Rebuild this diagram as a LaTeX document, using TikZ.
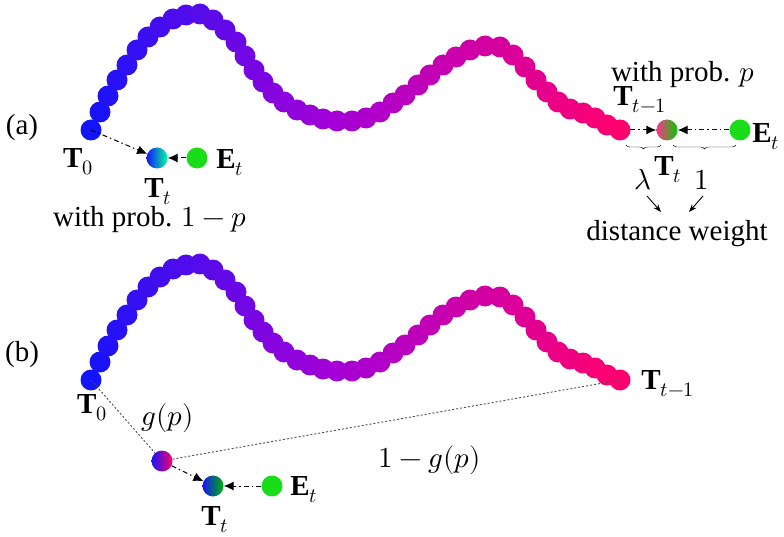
\documentclass[tikz,border=0pt]{standalone}
\usepackage{unicode-math}
\setmainfont{Liberation Serif}
\setmathfont{Latin Modern Math}
\usetikzlibrary{arrows.meta,decorations.pathreplacing}
\begin{document}
\begin{tikzpicture}[x=1pt,y=-1pt,
  dot/.style={circle,minimum size=21pt,inner sep=0pt},
  lab/.style={font=\fontsize{29}{33}\selectfont,inner sep=0pt},
  dda/.style={dash pattern=on 5pt off 3pt on 1.5pt off 3pt,line width=1pt,-{Latex[length=10pt,width=9pt]}},
  dotl/.style={dash pattern=on 2pt off 2pt,line width=0.9pt,gray!60!black}]
\useasboundingbox (0,0) rectangle (784,537);
\def\pts{91/130,100/112,108/96,117/80,127/65,137/50,148/37,160/27,173/19,186/15,200/14,213/20,225/30,236/42,245/56,254/70,263/82,273/93,284/102,297/110,310/115,323/119,337/121,352/121,366/118,380/112,393/103,405/95,418/85,430/75,443/65,456/57,470/50,485/46,500/47,513/55,525/67,536/80,547/92,558/102,570/109,583/113,595/118,607/125,620/130}
\definecolor{cA}{RGB}{20,20,250}
\definecolor{cB}{RGB}{165,0,215}
\definecolor{cC}{RGB}{255,0,110}
\foreach \dy in {0,250}{
\foreach \x/\y [count=\i] in \pts {
  \pgfmathsetmacro{\t}{\i<23 ? (\i-1)/22*100 : (\i-23)/22*100}
  \ifnum\i<23 \colorlet{dc}{cB!\t!cA}\else\colorlet{dc}{cC!\t!cB}\fi
  \fill[dc] (\x,\y+\dy) circle (10.5);
}}
% (a)
\node[lab] at (22,128) {(a)};
\coordinate (T0a) at (91,130);
\node[dot,left color=cA,right color=cyan!60!green] (Tta) at (157,158) {};
\node[dot,fill=green!85!black!90] (Eta) at (197,158) {};
\draw[dda] (T0a) -- (Tta);
\draw[dda] (Eta) -- (Tta);
\node[lab] at (78,162) {$\mathbf{T}_0$};
\node[lab] at (158,192) {$\mathbf{T}_t$};
\node[lab] at (150,220) {with prob. $1-p$};
\node[lab] at (230,163) {$\mathbf{E}_t$};
\coordinate (Tm1a) at (620,130);
\node[dot,left color=cC!80,right color=green!80!black] (Ttr) at (667,130) {};
\node[dot,fill=green!85!black!90] (Etr) at (740,130) {};
\draw[dda] (Tm1a)++(10,0) -- (Ttr);
\draw[dda] (Etr) -- (Ttr);
\node[lab] at (640,100) {$\mathbf{T}_{t-1}$};
\node[lab] at (766,137) {$\mathbf{E}_t$};
\node[lab] at (683,75) {with prob. $p$};
\draw[decorate,decoration={brace,mirror,amplitude=4pt}] (626,145) -- (661,145);
\draw[decorate,decoration={brace,mirror,amplitude=4pt}] (673,145) -- (736,145);
\node[lab] at (643,180) {$\lambda$};
\node[lab] at (668,170) {$\mathbf{T}_t$};
\node[lab] at (702,180) {$1$};
\node[lab] (dw) at (677,234) {distance weight};
\draw[-{Stealth[length=8pt]},line width=0.9pt] (647,196) -- (661,212);
\draw[-{Stealth[length=8pt]},line width=0.9pt] (703,196) -- (689,212);
% (b)
\node[lab] at (22,355) {(b)};
\coordinate (T0b) at (91,380);
\coordinate (Tm1b) at (620,380);
\node[dot,left color=cA,right color=cC] (Mb) at (162,461) {};
\node[dot,shading=axis,left color=cA,middle color=cC,right color=green!70!black] (Ttb) at (213,486) {};
\node[dot,fill=green!85!black!90] (Etb) at (272,486) {};
\draw[dotl] (T0b) -- (Mb);
\draw[dotl] (Mb) -- (Tm1b);
\draw[dda] (Mb) -- (Ttb);
\draw[dda] (Etb) -- (Ttb);
\node[lab] at (92,408) {$\mathbf{T}_0$};
\node[lab] at (168,418) {$g(p)$};
\node[lab] at (430,460) {$1-g(p)$};
\node[lab] at (304,490) {$\mathbf{E}_t$};
\node[lab] at (215,520) {$\mathbf{T}_t$};
\node[lab] at (668,384) {$\mathbf{T}_{t-1}$};
\end{tikzpicture}
\end{document}
